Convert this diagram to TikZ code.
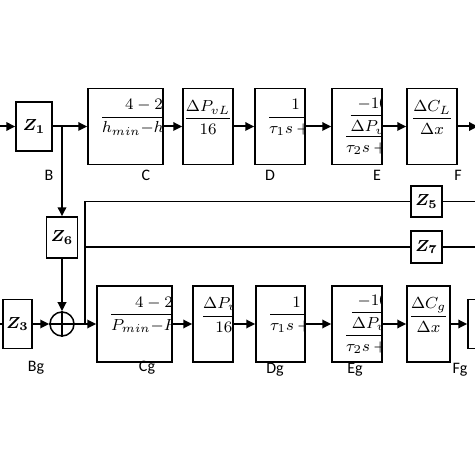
\documentclass[tikz,border=0pt]{standalone}
\usepackage{amsmath}
\usepackage{fontspec}
\setsansfont{Carlito}
\usetikzlibrary{arrows.meta}
\tikzset{blk/.style={draw, line width=0.75pt, inner sep=0pt,
        minimum width=25pt, minimum height=38pt},
    zblk/.style={draw, line width=0.7pt, inner sep=0pt, font=\fontsize{8.5}{10}\selectfont\boldmath},
    intxt/.style={draw=none, fill=none, inner sep=0pt,
        minimum width=0pt, minimum height=0pt},
    ltxt/.style={path picture={\node[intxt, anchor=west]
        at ([shift={(5.5pt,4.5pt)}]path picture bounding box.west) {#1};}},
    ntxt/.style={path picture={\node[intxt, anchor=west]
        at ([xshift=5.5pt]path picture bounding box.west) {#1};}},
    ctxt/.style={path picture={\node[intxt]
        at ([yshift=4.5pt]path picture bounding box.center) {#1};}},
    sig/.style={line width=1pt, -{Triangle[length=4.5pt, width=4.2pt]}},
    fb/.style={line width=0.6pt},
    lbl/.style={font=\sffamily\fontsize{8}{9}\selectfont},
    }

\begin{document}
\begin{tikzpicture}[x=0.5pt, y=-0.5pt, font=\fontsize{8.5}{10}\selectfont]
    \useasboundingbox[fill=white] (0,0) rectangle (474,474);
    % load path
    \coordinate (in1) at (-6,126.5);
    \node[zblk, minimum width=18pt, minimum height=24.5pt] (z1) at (34,126.5) {$Z_1$};
    \coordinate (b) at (62,126.5);
    \node[blk, minimum width=37.5pt, ltxt={$\dfrac{4-20}{h_{min}{-}h_{max}}$}] (c) at (125.5,126.5) {};
    \node[blk, ctxt={$\dfrac{\Delta P_{vL}}{16}$}] (pl) at (208,126.5) {};
    \node[blk, ltxt={$\dfrac{1}{\tau_1 s+1}$}] (d) at (280,126.5) {};
    \node[blk, ntxt={$\dfrac{\dfrac{-10}{\Delta P_{vL}}}{\tau_2 s+1}$}] (e) at (357,126.5) {};
    \node[blk, ctxt={$\dfrac{\Delta C_L}{\Delta x}$}] (f) at (432,126.5) {};
    \coordinate (out1) at (478,126.5);
    % feedback
    \node[zblk, minimum width=15.5pt, minimum height=20.5pt] (z6) at (62,237.5) {$Z_6$};
    \node[zblk, minimum width=15.5pt, minimum height=15.5pt] (z5) at (426.5,201.5) {$Z_5$};
    \node[zblk, minimum width=15.5pt, minimum height=16pt] (z7) at (426.5,247) {$Z_7$};
    \coordinate (t5) at (85,201.5);
    \coordinate (t7) at (85,247);
    \coordinate (r5) at (480,201.5);
    \coordinate (r7) at (480,247);
    % generation path
    \coordinate (in3) at (-6,324);
    \node[zblk, minimum width=14.5pt, minimum height=24.5pt] (z3) at (17.5,324) {$Z_3$};
    \node[draw, circle, line width=0.75pt, inner sep=0pt, minimum size=12pt] (sum) at (62,324) {};
    \coordinate (j) at (85,324);
    \node[blk, minimum width=37.5pt, ltxt={$\dfrac{4-20}{P_{min}{-}P_{max}}$}] (cg) at (134.5,324) {};
    \node[blk, minimum width=20pt, path picture={\node[intxt, anchor=west]
        at ([shift={(3.5pt,4.5pt)}]path picture bounding box.west) {$\dfrac{\Delta P_{vg}}{16}$};}] (pg) at (213,324) {};
    \node[blk, minimum width=24.5pt, ltxt={$\dfrac{1}{\tau_1 s+1}$}] (dg) at (280.5,324) {};
    \node[blk, ntxt={$\dfrac{\dfrac{-10}{\Delta P_{vg}}}{\tau_2 s+1}$}] (eg) at (357,324) {};
    \node[blk, minimum width=21.5pt, ctxt={$\dfrac{\Delta C_g}{\Delta x}$}] (fg) at (428.5,324) {};
    \node[blk, minimum width=20pt, minimum height=24.5pt] (hg) at (488,324) {};
    % labels
    \node[lbl] (lb) at (49,175) {B};
    \node[lbl] (lc) at (146,175) {C};
    \node[lbl] (ld) at (270,175) {D};
    \node[lbl] (le) at (377,175) {E};
    \node[lbl] (lf) at (458,175) {F};
    \node[lbl] (lbg) at (36,368) {Bg};
    \node[lbl] (lcg) at (147,368) {Cg};
    \node[lbl] (ldg) at (275,370) {Dg};
    \node[lbl] (leg) at (355,370) {Eg};
    \node[lbl] (lfg) at (460,370) {Fg};
    % connectors
    \draw[sig] (in1) -- (z1);
    \draw[sig] (z1) -- (c);
    \draw[sig] (c) -- (pl);
    \draw[sig] (pl) -- (d);
    \draw[sig] (d) -- (e);
    \draw[sig] (e) -- (f);
    \draw[sig] (f) -- (out1);
    \draw[sig] (b) -- (z6);
    \draw[sig] (z6) -- (sum);
    \draw[line width=1pt] (in3) -- (z3);
    \draw[sig] (z3) -- (sum);
    \draw[sig] (sum) -- (cg);
    \draw[line width=0.7pt] (sum.north) -- (sum.south) (sum.west) -- (sum.east);
    \draw[sig] (cg) -- (pg);
    \draw[sig] (pg) -- (dg);
    \draw[sig] (dg) -- (eg);
    \draw[sig] (eg) -- (fg);
    \draw[sig] (fg) -- (hg);
    \draw[fb] (j) -- (t5) -- (z5) -- (r5);
    \draw[fb] (t7) -- (z7) -- (r7);
\end{tikzpicture}
\end{document}
